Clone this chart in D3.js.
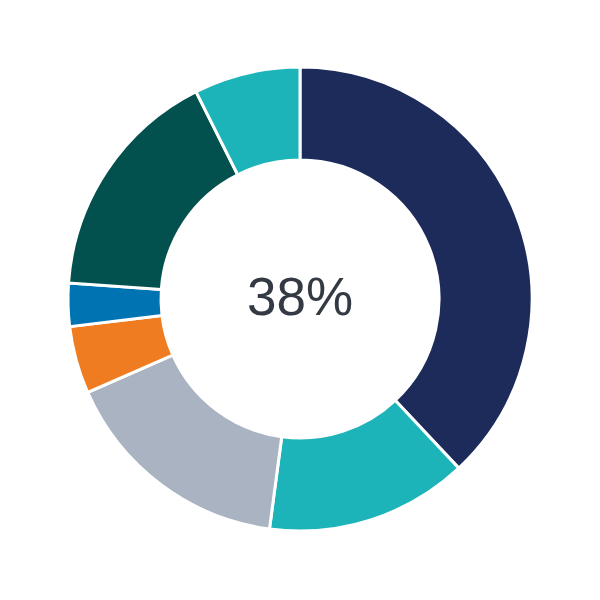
<!DOCTYPE html>
<html>
<head>
<meta charset="utf-8">
<script src="https://cdn.jsdelivr.net/npm/d3@7"></script>
<style>
  body { margin: 0; background: #fff; }
</style>
</head>
<body>
<div id="chart"></div>
<script>
// slice values, clockwise from 12 o'clock
const categories = ["A", "B", "C", "D", "E", "F", "G"];
const values = [38, 14.1, 16.3, 4.7, 3.0, 16.5, 7.4];
const colors = ["#1c2b5a", "#1cb4b8", "#a9b3c1", "#f07c22", "#0073b3", "#03514f", "#1cb4b8"];
const centerLabel = "38%";

const width = 600, height = 600;
const cx = 300, cy = 299;
const outerR = 232, innerR = 139;

const svg = d3.select("#chart")
    .append("svg")
    .attr("width", width)
    .attr("height", height);

const g = svg.append("g")
    .attr("transform", "translate(" + cx + "," + cy + ")");

const pie = d3.pie()
    .value((d) => d.value)
    .sort(null);

const arc = d3.arc()
    .innerRadius(innerR)
    .outerRadius(outerR);

const data = categories.map((c, i) => ({ name: c, value: values[i], color: colors[i] }));

g.selectAll("path")
    .data(pie(data))
    .enter()
    .append("path")
    .attr("d", arc)
    .attr("fill", (d) => d.data.color)
    .attr("stroke", "#fff")
    .attr("stroke-width", 3);

g.append("text")
    .attr("x", 0)
    .attr("y", 16)
    .attr("text-anchor", "middle")
    .style("font-family", "'Liberation Sans', Arial, sans-serif")
    .style("font-size", "53px")
    .style("fill", "#343a44")
    .text(centerLabel);
</script>
</body>
</html>
